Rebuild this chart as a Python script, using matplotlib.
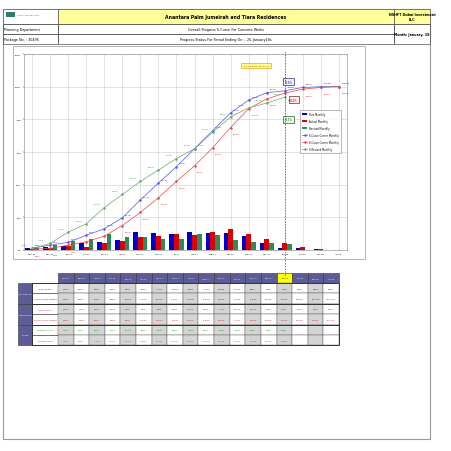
import matplotlib
matplotlib.use("Agg")
import matplotlib.pyplot as plt
from matplotlib.patches import Rectangle
import numpy as np

months = ["Nov-16","Dec-16","Jan-17","Feb-17","Mar-17","Apr-17","May-17","Jun-17","Jul-17","Aug-17",
          "Sep-17","Oct-17","Nov-17","Dec-17","Jan-18","Feb-18","Mar-18","Apr-18"]
plan_m = [1.0,2.0,2.5,4.0,4.8,6.0,11.0,10.2,9.6,11.0,10.5,10.7,8.5,4.3,1.5,1.5,0.5,0.2]
actual_m = [0.5,1.0,2.5,2.0,4.5,5.5,8.0,8.5,10.0,9.0,11.0,12.8,10.0,7.0,4.0,2.0,0.8,0.0]
revised_m = [1.0,3.0,5.5,6.5,10.0,8.0,8.0,6.5,7.0,9.5,9.0,6.0,5.0,4.5,3.5]
plan_c = [1.0,3.0,4.7,9.0,13.0,19.7,30.7,41.0,51.0,62.0,73.0,84.0,91.8,96.3,97.5,99.5,100.0,100.0]
actual_c = [0.5,1.0,3.0,5.0,8.5,15.0,23.0,32.0,42.0,51.5,62.5,75.0,86.5,92.5,96.0,98.5,99.5,100.0]
revised_c = [1.0,4.0,11.0,16.0,26.0,34.0,42.0,49.0,56.0,62.0,72.0,81.5,87.0,90.0,93.5]
cutoff = 14

W = H = 452
fig = plt.figure(figsize=(4.52, 4.52), dpi=100)
ov = fig.add_axes([0, 0, 1, 1])
ov.set_xlim(0, W); ov.set_ylim(H, 0); ov.axis("off")

def box(x0, y0, x1, y1, fc="none", ec="#555555", lw=0.5, z=1):
    ov.add_patch(Rectangle((x0, y0), x1-x0, y1-y0, fc=fc, ec=ec, lw=lw, zorder=z))

# outer frame & header
box(3, 10, 430, 440, ec="#999999", lw=0.8)
box(3, 10, 58, 25, fc="white")
box(58, 10, 394, 25, fc="#ffff99")
box(394, 10, 430, 25, fc="#ffff99")
box(3, 25, 58, 35); box(3, 35, 58, 45)
box(58, 25, 394, 35); box(58, 35, 394, 45)
box(394, 25, 430, 45)
ov.add_patch(Rectangle((6, 13), 9, 5, fc="#2e7d6e", ec="none"))
ov.text(17, 15.5, "Quality Management", fontsize=1.5, color="#666666", va="center")
ov.text(226, 17.5, "Anantara Palm Jumeirah and Tiara Residences", fontsize=3.3, fontweight="bold", ha="center", va="center")
ov.text(412, 17.5, "NSHFT Dubai Investment\nLLC", fontsize=2.4, fontweight="bold", ha="center", va="center")
ov.text(4, 30, "Planning Department", fontsize=2.4, va="center")
ov.text(4, 40, "Package No. : 30495", fontsize=2.4, va="center")
ov.text(226, 30, "Overall Progress S-Curve For Concrete Works", fontsize=2.4, ha="center", va="center")
ov.text(226, 40, "Progress Status For Period Ending On :- 25-January18s", fontsize=2.4, ha="center", va="center")
ov.text(412, 35, "Month: January, 18", fontsize=2.4, fontweight="bold", ha="center", va="center")
box(13, 47, 365, 260, ec="#aaaaaa", lw=0.6)

# chart
ax = fig.add_axes([24/W, 1-251/H, (347-24)/W, (251-55)/H])
x = np.arange(len(months))
bw = 0.26
b1 = ax.bar(x-bw, plan_m, bw, color="#0000cc", label="Plan Monthly", zorder=3)
b2 = ax.bar(x, actual_m, bw, color="#dd0000", label="Actual Monthly", zorder=3)
b3 = ax.bar(np.arange(len(revised_m))+bw, revised_m, bw, color="#2e8b57", label="Revised Monthly", zorder=3)
l1, = ax.plot(x, plan_c, color="#5555ee", lw=0.5, marker="o", ms=0.8, label="S-Curve Cumm Monthly", zorder=4)
l2, = ax.plot(x, actual_c, color="#ee4444", lw=0.5, marker="o", ms=0.8, label="S-Curve Cumm Monthly", zorder=4)
l3, = ax.plot(np.arange(len(revised_c)), revised_c, color="#66aa66", lw=0.5, marker="o", ms=0.8, label="S-Revised Monthly", zorder=4)
for i, v in enumerate(plan_c):
    ax.text(i+0.15, v+2, f"{v:.1f}%", fontsize=1.5, color="#0000cc")
for i, v in enumerate(actual_c):
    ax.text(i+0.15, v-4, f"{v:.1f}%", fontsize=1.5, color="#cc0000")
for i, v in enumerate(revised_c):
    ax.text(i-0.6, v+2, f"{v:.1f}%", fontsize=1.5, color="#228822")
ax.set_xlim(-0.45, 17.45); ax.set_ylim(0, 120)
ax.set_xticks(x); ax.set_xticklabels(months, fontsize=1.6)
ax.set_yticks(range(0, 121, 20)); ax.set_yticklabels([f"{v}%" for v in range(0, 121, 20)], fontsize=1.6)
ax.tick_params(length=1, width=0.3, pad=1)
ax.grid(True, color="#cccccc", lw=0.4, zorder=0)
for s in ax.spines.values(): s.set_color("#999999"); s.set_linewidth(0.5)
ax.plot([cutoff, cutoff], [-15, 122], ls=(0, (2, 2)), color="#dd0000", lw=0.5, clip_on=False, zorder=5)
ax.text(cutoff-1.6, 113, "Cut-Off Date: 25-Jan-18", fontsize=1.6, color="#cc3300",
        bbox=dict(fc="#ffff88", ec="#cc9900", lw=0.4, pad=1.2), ha="center", va="center")
ax.text(cutoff, 103, f"{plan_c[cutoff]:.1f}%", fontsize=1.8, color="#0000aa", ha="left", va="center",
        bbox=dict(fc="#eeeeff", ec="#333366", lw=0.5, pad=1))
ax.text(cutoff+0.3, 92, f"{actual_c[cutoff]:.1f}%", fontsize=1.8, color="#cc0000", ha="left", va="center",
        bbox=dict(fc="#ffeeee", ec="#553333", lw=0.5, pad=1))
ax.text(cutoff, 80, f"{revised_c[cutoff]:.1f}%", fontsize=1.8, color="#006600", ha="left", va="center",
        bbox=dict(fc="#eeffee", ec="#335533", lw=0.5, pad=1))
leg = ax.legend([b1, b2, b3, l1, l2, l3], [h.get_label() for h in [b1, b2, b3, l1, l2, l3]],
                loc="upper right", bbox_to_anchor=(0.985, 0.72), fontsize=1.8, frameon=True,
                fancybox=False, edgecolor="#666666", borderpad=0.8, labelspacing=1.2, handlelength=2)
leg.get_frame().set_linewidth(0.4)

# table
cx0, cw = 58, (339-58)/18
y0, rh = 274, 10.4
hdr = "#5c5c99"
for j, m in enumerate(months):
    fc = "#ffff00" if j == cutoff else hdr
    box(cx0+j*cw, y0, cx0+(j+1)*cw, y0+10, fc=fc, ec="#333333", lw=0.4)
    ov.text(cx0+(j+0.5)*cw, y0+5, m, fontsize=1.5, ha="center", va="center",
            color="#333333" if j == cutoff else "white")
rows = [("Plan Monthly", plan_m, "#0000cc"), ("S-Curve Cumm Monthly", plan_c, "#0000cc"),
        ("Actual Monthly", actual_m, "#cc0000"), ("S-Curve Cumm Monthly", actual_c, "#cc0000"),
        ("Forecast Monthly", revised_m, "#008800"), ("Forecast Cumm", revised_c, "#008800")]
groups = ["Base Schedule", "Actual Progress", "Revised"]
ry0 = y0+10
for r, (lab, vals, col) in enumerate(rows):
    yy = ry0+r*rh
    box(32, yy, 58, yy+rh, fc="white", ec="#333333", lw=0.4)
    ov.text(45, yy+rh/2, lab, fontsize=1.4, color=col, ha="center", va="center")
    for j in range(18):
        fc = "#d4d4d4" if j % 2 == 0 else "white"
        box(cx0+j*cw, yy, cx0+(j+1)*cw, yy+rh, fc=fc, ec="#555555", lw=0.3)
        if j < len(vals):
            ov.text(cx0+(j+0.5)*cw, yy+rh/2, f"{vals[j]:.2f}%", fontsize=1.4, color=col, ha="center", va="center")
for g, gname in enumerate(groups):
    box(18, ry0+2*g*rh, 32, ry0+(2*g+2)*rh, fc=hdr, ec="#333333", lw=0.4)
    ov.text(25, ry0+(2*g+1)*rh, gname, fontsize=1.3, color="white", ha="center", va="center")
    box(32, ry0+2*g*rh, 339, ry0+(2*g+2)*rh, ec="#333333", lw=0.7, z=2)

fig.savefig("out.png", dpi=100)
